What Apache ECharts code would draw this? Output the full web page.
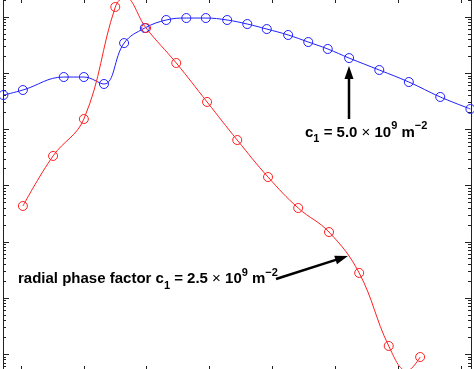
<!DOCTYPE html>
<html>
<head>
<meta charset="utf-8">
<script src="https://cdn.jsdelivr.net/npm/echarts@6/dist/echarts.min.js"></script>
<style>
    html, body { margin: 0; padding: 0; background: #fff; }
    #chart { width: 474px; height: 369px; }
</style>
</head>
<body>
<div id="chart"></div>
<script>
/* Values (x in tick units, y on a log scale). */
const blueX = [-0.28, 0.03, 0.68, 1.00, 1.32, 1.64, 1.97, 2.31, 2.63, 2.94, 3.28, 3.60, 3.91, 4.25, 4.57, 4.88, 5.22, 5.70, 6.17, 6.67, 7.15];
const blueY = [0.0409, 0.0502, 0.0855, 0.0855, 0.0643, 0.344, 0.637, 0.885, 0.959, 0.959, 0.885, 0.750, 0.611, 0.479, 0.359, 0.270, 0.186, 0.114, 0.0697, 0.0378, 0.0231];

const redX = [0.03, 0.51, 1.00, 1.50, 1.65, 1.99, 2.47, 2.96, 3.44, 3.93, 4.41, 4.90, 5.38, 5.85, 6.14, 6.35];
const redY = [4.34e-4, 3.37e-3, 0.0153, 1.507, 2.27, 0.637, 0.152, 0.0308, 6.47e-3, 1.42e-3, 3.99e-4, 1.49e-4, 2.79e-5, 1.40e-6, 5.02e-7, 8.9e-7];
// 1 = circle marker drawn, 0 = point on the curve only
const redMark = [1, 1, 1, 1, 0, 1, 1, 1, 1, 1, 1, 1, 1, 1, 0, 1];

const xTicks = [0, 1, 2, 3, 4, 5, 6, 7];
const yDecades = [1e-7, 1e-6, 1e-5, 1e-4, 1e-3, 1e-2, 1e-1, 1];
const yMinorSteps = [2, 3, 4, 5, 6, 7, 8, 9];

const X_MIN = -0.2864, X_MAX = 7.159;
const Y_MIN = 5.02e-7, Y_MAX = 2.18;

// arrows: [from, tip] in data coordinates
const arrowUpper = [[5.218, 0.0153], [5.218, 0.134]];
const arrowLower = [[4.057, 2.18e-5], [5.202, 5.58e-5]];

const BLUE = '#1f1fff';
const RED = '#ff1f1f';
const AXIS_COLOR = '#222';

let yMinor = [];
yDecades.forEach(function (d) {
    yMinorSteps.forEach(function (m) {
        let v = d * m;
        if (v >= Y_MIN && v <= Y_MAX) yMinor.push(v);
    });
});
let yMajor = yDecades.filter(function (v) { return v >= Y_MIN && v <= Y_MAX; });

function xAxisDef(position) {
    return {
        type: 'value',
        position: position,
        min: X_MIN,
        max: X_MAX,
        axisLine: { show: true, onZero: false, lineStyle: { color: AXIS_COLOR, width: 1 } },
        axisTick: { show: true, inside: true, length: 5, customValues: xTicks, lineStyle: { color: AXIS_COLOR } },
        axisLabel: { show: false },
        splitLine: { show: false }
    };
}

function yAxisDef(position, ticks, len, showLine) {
    return {
        type: 'log',
        position: position,
        min: Y_MIN,
        max: Y_MAX,
        axisLine: { show: showLine, onZero: false, lineStyle: { color: AXIS_COLOR, width: 1 } },
        axisTick: { show: true, inside: true, length: len, customValues: ticks, lineStyle: { color: AXIS_COLOR } },
        axisLabel: { show: false },
        splitLine: { show: false },
        minorTick: { show: false }
    };
}

const chart = echarts.init(document.getElementById('chart'));

const markerStyle = function (color) {
    return { color: 'rgba(0,0,0,0)', borderColor: color, borderWidth: 1 };
};

let option = {
    animation: false,
    grid: { left: 3, right: 3, top: -2, bottom: -2, containLabel: false, outerBoundsMode: 'none' },
    xAxis: [xAxisDef('bottom'), xAxisDef('top')],
    yAxis: [
        yAxisDef('left', yMajor, 6, true),
        yAxisDef('right', yMajor, 6, true),
        yAxisDef('left', yMinor, 3, false),
        yAxisDef('right', yMinor, 3, false)
    ],
    series: [
        {
            type: 'line',
            data: blueX.map(function (x, i) { return [x, blueY[i]]; }),
            smooth: 0.4,
            symbol: 'circle',
            symbolSize: 9,
            lineStyle: { color: BLUE, width: 1 },
            itemStyle: markerStyle(BLUE),
            emphasis: { disabled: true },
            silent: true
        },
        {
            type: 'line',
            data: redX.map(function (x, i) {
                let item = { value: [x, redY[i]] };
                if (!redMark[i]) item.symbol = 'none';
                return item;
            }),
            smooth: 0.4,
            symbol: 'circle',
            symbolSize: 9,
            lineStyle: { color: RED, width: 1 },
            itemStyle: markerStyle(RED),
            emphasis: { disabled: true },
            silent: true
        }
    ]
};
chart.setOption(option);

/* Annotations: text plus arrows placed through the chart's own scales. */
const richText = {
    b: { fontFamily: 'Liberation Sans', fontWeight: 'bold', fontSize: 15, lineHeight: 24, verticalAlign: 'middle', fill: '#000' },
    x: { fontFamily: 'Liberation Sans', fontWeight: 'normal', fontSize: 15, lineHeight: 24, verticalAlign: 'middle', fill: '#000' },
    p: { fontFamily: 'Liberation Sans', fontWeight: 'bold', fontSize: 11, lineHeight: 11, verticalAlign: 'top', fill: '#000' },
    s: { fontFamily: 'Liberation Sans', fontWeight: 'bold', fontSize: 11, lineHeight: 11, verticalAlign: 'bottom', fill: '#000' }
};

function arrowGraphics(arrow) {
    let p0 = chart.convertToPixel({ xAxisIndex: 0, yAxisIndex: 0 }, arrow[0]);
    let p1 = chart.convertToPixel({ xAxisIndex: 0, yAxisIndex: 0 }, arrow[1]);
    let dx = p1[0] - p0[0], dy = p1[1] - p0[1];
    let len = Math.sqrt(dx * dx + dy * dy);
    let ux = dx / len, uy = dy / len;
    let headLen = 13, halfW = 4.5;
    let bx = p1[0] - ux * headLen, by = p1[1] - uy * headLen;
    return [
        {
            type: 'line',
            shape: { x1: p0[0], y1: p0[1], x2: bx + ux * 1, y2: by + uy * 1 },
            style: { stroke: '#000', lineWidth: 2.5 },
            silent: true
        },
        {
            type: 'polygon',
            shape: { points: [[p1[0], p1[1]], [bx - uy * halfW, by + ux * halfW], [bx + uy * halfW, by - ux * halfW]] },
            style: { fill: '#000' },
            silent: true
        }
    ];
}

chart.setOption({
    graphic: [
        {
            type: 'text',
            x: 305, y: 132.5,
            style: {
                text: '{b|c}{s|1}{b| = 5.0 }{x|×}{b| 10}{p|9}{b| m}{p|−2}',
                rich: richText,
                align: 'left',
                verticalAlign: 'middle'
            },
            silent: true
        },
        {
            type: 'text',
            x: 18, y: 279,
            style: {
                text: '{b|radial phase factor c}{s|1}{b| = 2.5 }{x|×}{b| 10}{p|9}{b| m}{p|−2}',
                rich: richText,
                align: 'left',
                verticalAlign: 'middle'
            },
            silent: true
        }
    ].concat(arrowGraphics(arrowUpper), arrowGraphics(arrowLower))
});

window.addEventListener('resize', function () {
    chart.resize();
});
</script>
</body>
</html>
